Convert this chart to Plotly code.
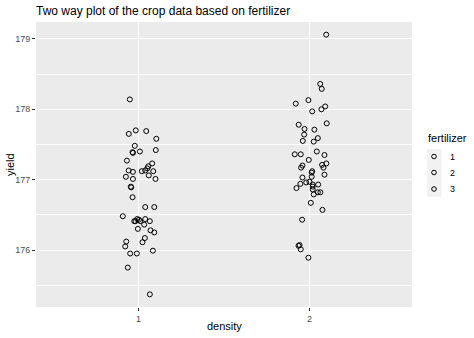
import plotly.graph_objects as go

# density (jittered, as plotted) and yield for density group 1
density1_jit = [0.949, 0.943, 0.984, 1.045, 1.104, 0.978, 0.965, 0.967, 1.008, 1.101,
                0.932, 1.080, 1.057, 0.942, 0.967, 1.019, 1.039, 1.051, 1.086, 1.060,
                0.926, 0.967, 1.099, 0.955, 0.957, 0.965, 1.039, 1.092, 0.908, 0.992,
                1.002, 0.982, 1.010, 0.975, 1.039, 1.066, 1.033, 0.996, 1.070, 1.092,
                0.928, 0.922, 1.037, 1.023, 1.084, 0.951, 0.990, 0.937, 1.066]
yield1 = [178.14, 177.65, 177.70, 177.69, 177.58, 177.48, 177.39, 177.38, 177.40, 177.42,
          177.27, 177.23, 177.19, 177.13, 177.11, 177.12, 177.13, 177.16, 177.12, 177.06,
          177.04, 177.01, 177.01, 176.90, 176.89, 176.75, 176.61, 176.61, 176.48, 176.44,
          176.43, 176.41, 176.41, 176.41, 176.44, 176.41, 176.36, 176.30, 176.28, 176.25,
          176.12, 176.05, 176.17, 176.11, 175.99, 175.95, 175.95, 175.75, 175.37]

# density group 2
density2_jit = [2.098, 2.063, 2.072, 1.994, 1.920, 2.092, 2.070, 2.016, 1.937, 2.101,
                1.971, 2.029, 1.969, 2.049, 1.961, 2.025, 2.043, 1.914, 1.949, 2.088,
                1.996, 1.959, 1.951, 2.074, 2.099, 2.082, 2.016, 2.013, 2.013, 2.088,
                1.959, 1.981, 2.000, 1.947, 1.924, 2.019, 2.019, 2.051, 2.019, 2.049,
                2.064, 2.025, 2.008, 2.076, 1.957, 1.936, 1.942, 1.949, 1.994]
yield2 = [179.06, 178.36, 178.29, 178.13, 178.08, 178.04, 178.00, 177.97, 177.78, 177.80,
          177.72, 177.71, 177.64, 177.59, 177.55, 177.54, 177.40, 177.36, 177.36, 177.35,
          177.28, 177.20, 177.17, 177.21, 177.23, 177.17, 177.12, 177.10, 177.04, 177.07,
          177.03, 176.96, 176.97, 176.94, 176.88, 176.93, 176.90, 176.93, 176.86, 176.82,
          176.82, 176.79, 176.67, 176.57, 176.43, 176.06, 176.07, 176.01, 175.89]

fertilizer_levels = ["1", "2", "3"]
x_tick_vals = [1, 2]
x_tick_text = ["1", "2"]
y_tick_vals = [176, 177, 178, 179]

all_x = density1_jit + density2_jit
all_y = yield1 + yield2
all_f = [fertilizer_levels[i % 3] for i in range(len(all_x))]

fig = go.Figure()
for lev in fertilizer_levels:
    xs = [x for x, f in zip(all_x, all_f) if f == lev]
    ys = [y for y, f in zip(all_y, all_f) if f == lev]
    fig.add_trace(go.Scatter(
        x=xs, y=ys, mode="markers", name=lev, showlegend=False,
        marker=dict(symbol="circle-open", size=5, color="black",
                    line=dict(width=1, color="black")),
    ))

W, H = 474, 338
ml, mr, mt, mb = 36, 62, 22, 31
pw, ph = W - ml - mr, H - mt - mb

def px2paper_x(px):
    return (px - ml) / pw

def px2paper_y(py):
    return (H - mb - py) / ph

# legend (ggplot style): grey key background, open circle keys, labels
fig.add_shape(type="rect", xref="paper", yref="paper",
              x0=px2paper_x(427), x1=px2paper_x(441.5),
              y0=px2paper_y(197), y1=px2paper_y(149),
              fillcolor="#F2F2F2", line=dict(width=0), layer="below")
fig.add_annotation(text="fertilizer", xref="paper", yref="paper",
                   x=px2paper_x(426), y=px2paper_y(138), xanchor="left", yanchor="middle",
                   showarrow=False, font=dict(size=11, color="black"))
key_y = [156.5, 172.5, 189]
for lev, ky in zip(fertilizer_levels, key_y):
    fig.add_shape(type="circle", xref="paper", yref="paper",
                  xsizemode="pixel", ysizemode="pixel",
                  xanchor=px2paper_x(434), yanchor=px2paper_y(ky),
                  x0=-2.3, x1=2.3, y0=-2.3, y1=2.3,
                  line=dict(color="black", width=1), fillcolor="rgba(0,0,0,0)")
    fig.add_annotation(text=lev, xref="paper", yref="paper",
                       x=px2paper_x(448), y=px2paper_y(ky), xanchor="left", yanchor="middle",
                       showarrow=False, font=dict(size=9, color="black"))

# axis titles placed as in the reference
fig.add_annotation(text="density", xref="paper", yref="paper",
                   x=0.5, y=px2paper_y(326), xanchor="center", yanchor="middle",
                   showarrow=False, font=dict(size=11, color="black"))
fig.add_annotation(text="yield", xref="paper", yref="paper", textangle=-90,
                   x=px2paper_x(10), y=px2paper_y(165), xanchor="center", yanchor="middle",
                   showarrow=False, font=dict(size=11, color="black"))

fig.update_layout(
    width=W, height=H,
    margin=dict(l=ml, r=mr, t=mt, b=mb, pad=0, autoexpand=False),
    paper_bgcolor="white",
    plot_bgcolor="#EBEBEB",
    font=dict(family="Liberation Sans, Arial, sans-serif", color="black"),
    title=dict(text="Two way plot of the crop data based on fertilizer",
               x=ml / W, xanchor="left", y=1 - 11 / H, yanchor="middle",
               font=dict(size=12, color="black"), automargin=False),
    xaxis=dict(range=[0.4, 2.6], tickvals=x_tick_vals, ticktext=x_tick_text,
               showgrid=True, gridcolor="white", gridwidth=1.1, zeroline=False,
               ticks="outside", ticklen=3, tickcolor="#333333", tickwidth=1,
               tickfont=dict(size=9, color="#4D4D4D"), automargin=False,
               showline=False),
    yaxis=dict(range=[175.19, 179.24], tickvals=y_tick_vals,
               showgrid=True, gridcolor="white", gridwidth=1.1, zeroline=False,
               ticks="outside", ticklen=3, tickcolor="#333333", tickwidth=1,
               tickfont=dict(size=9, color="#4D4D4D"), automargin=False,
               minor=dict(dtick=0.5, tick0=175.5, showgrid=True, gridcolor="white",
                          gridwidth=0.5, ticks=""),
               showline=False),
    showlegend=False,
)

fig.write_html("out.html")
